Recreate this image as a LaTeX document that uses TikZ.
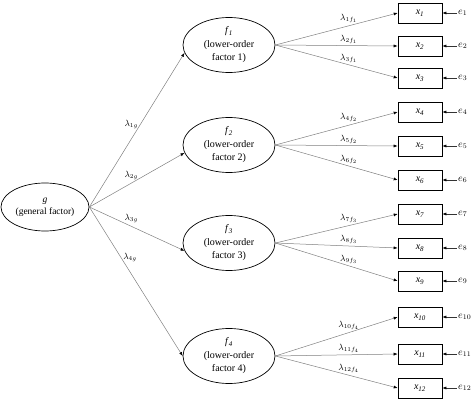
\documentclass[tikz,border=0pt]{standalone}
\usepackage{fontspec}
\setmainfont{Liberation Serif}
\usetikzlibrary{shapes.geometric,arrows.meta}
\begin{document}
\begin{tikzpicture}[x=1pt,y=-1pt,
 latent/.style={draw, line width=0.7pt, ellipse, minimum width=92pt, minimum height=55pt, inner sep=0pt, align=center, font=\fontsize{10}{13.5}\selectfont},
 gstyle/.style={latent, minimum width=88pt, minimum height=48pt, font=\fontsize{9.5}{12}\selectfont},
 obs/.style={draw, line width=0.6pt, rectangle, minimum width=44pt, minimum height=20pt, inner sep=0pt, font=\fontsize{10}{12}\selectfont\itshape},
 ld/.style={draw=black!50, line width=0.5pt, -{Latex[length=4pt,width=3pt,black]}},
 eline/.style={draw=black!80, line width=0.5pt, -{Latex[length=4pt,width=3pt,black]}},
 lab/.style={font=\fontsize{9}{10}\selectfont, inner sep=1pt},
 err/.style={font=\fontsize{10}{11}\selectfont, inner sep=1pt, anchor=west}
]
\useasboundingbox (0,0) rectangle (474,401);

\node[gstyle] (g) at (45,207) {\textit{g}\\(general factor)};

\node[latent] (f1) at (229,45) {\textit{f}\textsubscript{\textit{1}}\\(lower-order\\factor 1)};
\node[latent] (f2) at (229,145) {\textit{f}\textsubscript{\textit{2}}\\(lower-order\\factor 2)};
\node[latent] (f3) at (229,243) {\textit{f}\textsubscript{\textit{3}}\\(lower-order\\factor 3)};
\node[latent] (f4) at (229,356) {\textit{f}\textsubscript{\textit{4}}\\(lower-order\\factor 4)};

\node[obs] (x1) at (420,13) {x\textsubscript{1}};
\node[obs] (x2) at (420,46) {x\textsubscript{2}};
\node[obs] (x3) at (420,78) {x\textsubscript{3}};
\node[obs] (x4) at (420,112) {x\textsubscript{4}};
\node[obs] (x5) at (420,146) {x\textsubscript{5}};
\node[obs] (x6) at (420,180) {x\textsubscript{6}};
\node[obs] (x7) at (420,214) {x\textsubscript{7}};
\node[obs] (x8) at (420,248) {x\textsubscript{8}};
\node[obs] (x9) at (420,281) {x\textsubscript{9}};
\node[obs] (x10) at (420,317) {x\textsubscript{10}};
\node[obs] (x11) at (420,354) {x\textsubscript{11}};
\node[obs] (x12) at (420,388) {x\textsubscript{12}};

\foreach \i/\y in {1/13,2/46,3/78,4/112,5/146,6/180,7/214,8/248,9/281,10/317,11/354,12/388}{
  \node[err] (e\i) at (457,\y) {$e_{\i}$};
  \draw[eline] (e\i.west) -- (x\i.east);
}

\draw[ld] (g.east) -- node[lab, pos=0.535, left=1pt] {$\lambda_{1g}$} (f1.190);
\draw[ld] (g.east) -- node[lab, pos=0.44, above=2pt] {$\lambda_{2g}$} (f2.190);
\draw[ld] (g.east) -- node[lab, pos=0.44, above=2pt] {$\lambda_{3g}$} (f3.190);
\draw[ld] (g.east) -- node[lab, pos=0.34, right=1pt] {$\lambda_{4g}$} (f4.west);

\draw[ld] (f1.east) -- node[lab, pos=0.6, above=2pt] {$\lambda_{1f_1}$} (x1.west);
\draw[ld] (f1.east) -- node[lab, pos=0.6, above=1pt] {$\lambda_{2f_1}$} (x2.west);
\draw[ld] (f1.east) -- node[lab, pos=0.6, above=1pt] {$\lambda_{3f_1}$} (x3.west);
\draw[ld] (f2.east) -- node[lab, pos=0.6, above=2pt] {$\lambda_{4f_2}$} (x4.west);
\draw[ld] (f2.east) -- node[lab, pos=0.6, above=1pt] {$\lambda_{5f_2}$} (x5.west);
\draw[ld] (f2.east) -- node[lab, pos=0.6, above=1pt] {$\lambda_{6f_2}$} (x6.west);
\draw[ld] (f3.east) -- node[lab, pos=0.6, above=2pt] {$\lambda_{7f_3}$} (x7.west);
\draw[ld] (f3.east) -- node[lab, pos=0.6, above=1pt] {$\lambda_{8f_3}$} (x8.west);
\draw[ld] (f3.east) -- node[lab, pos=0.6, above=1pt] {$\lambda_{9f_3}$} (x9.west);
\draw[ld] (f4.east) -- node[lab, pos=0.6, above=2pt] {$\lambda_{10f_4}$} (x10.west);
\draw[ld] (f4.east) -- node[lab, pos=0.6, above=1pt] {$\lambda_{11f_4}$} (x11.west);
\draw[ld] (f4.east) -- node[lab, pos=0.6, above=1pt] {$\lambda_{12f_4}$} (x12.west);
\end{tikzpicture}
\end{document}
